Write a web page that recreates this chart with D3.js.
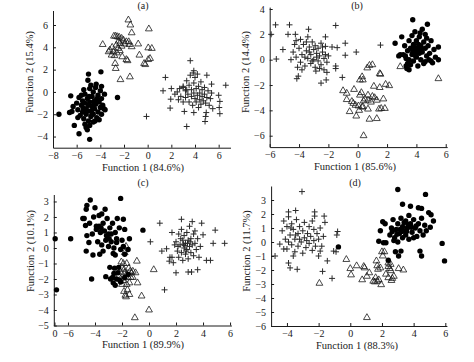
<!DOCTYPE html>
<html><head><meta charset="utf-8">
<script src="https://cdn.jsdelivr.net/npm/d3@7"></script>
<style>html,body{margin:0;padding:0;background:#fff;}svg{display:block;}</style>
</head><body>
<script>
// ---------- DATA ----------
const panelLabels = ["(a)", "(b)", "(c)", "(d)"];
const xTitles = ["Function 1 (84.6%)", "Function 1 (85.6%)", "Function 1 (89.9%)", "Function 1 (88.3%)"];
const yTitles = ["Function 2 (15.4%)", "Function 2 (14.4%)", "Function 2 (10.1%)", "Function 2 (11.7%)"];

const aXTicks = [-8,-6,-4,-2,0,2,4,6];
const aYTicks = [-4,-2,0,2,4,6];
const bXTicks = [-6,-4,-2,0,2,4,6];
const bYTicks = [-6,-4,-2,0,2,4];
const cXTicks = [-7,-6,-4,-2,0,2,4,6];
const cXTickLabels = ["0","−6","−4","−2","0","2","4","6"];
const cYTicks = [-5,-4,-3,-2,-1,0,1,2,3];
const dXTicks = [-4,-2,0,2,4,6];
const dYTicks = [-6,-5,-4,-3,-2,-1,0,1,2,3];

const aDots = [[-7.5,-2.0],[-6.5,-0.35],[-6.6,-1.85],[-6.4,-1.75],[-6.2,-3.0],[-5.8,-3.75],[-4.9,-4.25],[-5.2,-3.2],[-5.1,-3.4],[-5.0,1.6],[-5.05,1.05],[-3.95,1.8],[-4.35,0.7],[-2.55,-0.5],[-3.65,-0.2],[-3.6,-1.6],[-4.45,-2.6],
[-6.0,-1.0],[-5.8,-0.5],[-5.9,-1.6],[-5.7,-2.1],[-5.6,-1.2],[-5.5,-0.8],[-5.5,-1.8],[-5.4,-2.4],[-5.3,-0.2],[-5.3,-1.0],[-5.2,-1.5],[-5.2,-2.0],[-5.1,-0.6],[-5.0,-1.2],[-5.0,-2.6],[-4.9,0.3],[-4.9,-0.9],[-4.8,-1.7],[-4.8,-2.2],[-4.7,-0.4],[-4.7,-1.3],[-4.6,0.0],[-4.6,-2.0],[-4.5,-0.8],[-4.5,-1.5],[-4.4,0.4],[-4.4,-1.1],[-4.3,-2.3],[-4.2,-0.3],[-4.2,-1.8],[-4.1,-0.9],[-4.0,-1.4],[-4.0,0.1],[-3.9,-0.6],[-3.9,-2.0],[-3.8,-1.2],[-3.7,-1.5],[-5.6,-0.3],[-5.4,0.2],[-4.8,0.6],[-5.3,-2.9],[-4.9,-3.0],[-4.6,-2.7],[-6.3,-1.3],[-5.9,-2.3],[-4.3,-0.6],[-4.7,-1.9],[-5.1,-1.7],[-4.5,-1.0],[-3.9,0.5],[-4.1,-2.5],[-5.45,-1.45],[-4.95,-0.4]];
const aTriangles = [[-3.8,4.25],[-1.63,6.45],[-1.46,6.0],[-1.35,5.3],[0.1,5.65],[-2.85,5.0],[-2.7,5.0],[-2.55,4.95],[-2.4,4.9],[-2.2,4.8],[-3.2,3.75],[-3.05,3.3],[-2.75,2.55],[-2.7,2.1],[-2.3,1.1],[-1.5,1.35],[-1.7,2.8],[-1.8,2.9],[-2.15,3.15],[-1.35,4.05],[-0.8,4.3],[-0.7,3.3],[-0.3,2.55],[-0.2,2.45],[0.05,3.95],[0.35,3.9],[0.05,2.9],[0.2,3.0],[-1.8,4.5],[-1.6,4.5],[-2.05,4.65],[-2.35,4.35],[-2.65,4.2],[-2.5,3.9],[-2.9,3.6],[-2.6,3.5],[-3.0,4.0],[-2.35,3.7],[-1.95,4.3],[-2.2,4.1],[-3.3,3.6],[-2.8,3.25],[-2.45,4.55],[-1.55,4.25]];
const aPlus = [[1.5,1.3],[1.3,0.1],[1.95,-0.65],[1.9,-1.45],[-0.1,-2.2],[3.6,2.8],[3.1,-1.75],[3.3,-3.1],[3.9,1.9],[3.9,-1.85],[5.0,1.5],[5.4,0.7],[6.6,0.6],[6.0,-0.3],[6.1,-0.85],[6.05,-1.4],[6.1,-1.95],[4.85,-2.65],[4.9,-2.2],[4.95,-1.85],[2.0,0.3],[2.3,-0.2],[2.5,0.0],[2.6,-0.7],[2.8,-0.4],[3.0,0.4],[3.0,-0.9],[3.2,0.1],[3.2,-0.5],[3.3,1.0],[3.4,-0.2],[3.5,0.6],[3.5,-0.9],[3.6,1.5],[3.7,0.2],[3.7,-0.4],[3.8,-1.2],[3.9,0.8],[3.9,-0.1],[4.0,-0.6],[4.0,1.3],[4.1,0.3],[4.1,-0.9],[4.2,-0.3],[4.3,0.5],[4.3,-1.4],[4.4,-0.1],[4.4,-0.7],[4.5,0.9],[4.5,-1.1],[4.6,0.2],[4.6,-0.4],[4.7,-0.8],[4.8,0.4],[4.8,-0.2],[4.9,-1.0],[5.0,-0.5],[5.1,0.1],[5.2,-1.2],[5.3,-0.6],[5.4,-0.1],[5.5,-1.5],[3.0,0.5],[3.3,0.2],[4.2,1.6],[3.85,1.7],[2.7,0.3]];

const bDots = [[3.75,3.15],[4.75,2.8],[2.55,1.3],[3.0,1.8],[5.5,1.0],[5.5,0.0],[5.1,-0.25],[4.6,-0.15],[2.8,0.3],[3.35,-0.7],[3.5,-0.8],[3.3,-0.5],[3.4,-0.3],[3.1,0.4],[3.2,1.1],[3.3,0.1],[3.4,0.7],[3.5,1.5],[3.5,0.0],[3.6,0.9],[3.6,-0.4],[3.7,0.4],[3.7,1.9],[3.8,1.2],[3.8,-0.1],[3.9,0.7],[3.9,2.2],[4.0,0.2],[4.0,1.5],[4.1,0.9],[4.1,-0.5],[4.2,0.5],[4.2,1.8],[4.3,1.1],[4.3,0.0],[4.4,2.4],[4.4,0.6],[4.5,1.4],[4.5,-0.3],[4.6,0.9],[4.7,0.3],[4.7,1.7],[4.8,1.1],[4.9,0.5],[5.0,1.5],[5.0,-0.1],[5.2,0.8],[5.3,0.2],[3.9,0.9],[4.05,0.6],[4.15,1.2],[3.95,0.3],[4.35,0.8],[3.75,0.6],[4.25,2.1],[4.6,2.0],[3.25,0.3],[2.9,0.4],[4.85,0.0]];
const bTriangles = [[0.4,-6.0],[0.8,-0.45],[1.0,-0.4],[0.65,-0.65],[0.3,-1.35],[0.15,-1.6],[0.35,-1.6],[1.5,-1.1],[1.55,-1.15],[1.1,-2.1],[1.5,-2.2],[1.9,-1.95],[2.15,-2.05],[-1.0,-2.45],[-0.25,-2.35],[-0.75,-2.65],[-0.75,-3.15],[-0.4,-3.3],[-0.55,-4.1],[-0.1,-4.45],[0.1,-4.0],[0.35,-3.7],[0.4,-3.25],[0.7,-3.2],[1.0,-2.9],[1.3,-3.2],[1.75,-3.1],[1.6,-3.85],[1.85,-3.85],[1.45,-3.9],[1.3,-4.65],[0.8,-4.7],[-0.15,-3.6],[0.05,-3.65],[0.7,-3.9],[0.15,-2.8],[0.25,-2.6],[0.5,-3.1],[0.7,-2.8],[2.9,-0.55],[5.5,-1.5],[0.3,-3.75],[1.15,-3.0],[0.9,-3.35],[-0.3,-3.45]];
const bPlus = [[-5.6,2.75],[-5.9,2.0],[-5.55,0.05],[-5.1,0.8],[-4.65,2.75],[-4.75,2.0],[-4.25,2.0],[-3.35,2.4],[-1.5,2.7],[-2.2,1.8],[-0.85,1.3],[-0.1,0.6],[1.55,1.15],[-1.75,1.0],[-1.4,0.95],[-0.85,0.35],[-1.05,-1.4],[-2.5,-1.85],[-2.15,-1.6],[-4.15,-1.5],[-4.05,-1.3],[-2.85,-0.9],[-1.5,-0.5],[-1.5,-0.7],[-4.55,0.0],[-4.4,0.6],[-4.3,1.2],[-4.2,0.2],[-4.1,-0.6],[-4.0,0.9],[-3.9,1.6],[-3.9,-0.2],[-3.8,0.4],[-3.7,1.2],[-3.6,-0.5],[-3.5,0.7],[-3.4,0.1],[-3.4,1.8],[-3.3,1.0],[-3.2,0.4],[-3.2,-0.3],[-3.1,1.4],[-3.0,0.8],[-3.0,0.0],[-2.9,1.1],[-2.9,-0.6],[-2.8,0.5],[-2.7,0.9],[-2.7,-0.1],[-2.6,0.3],[-2.5,1.3],[-2.5,-0.4],[-2.4,0.6],[-2.3,0.1],[-2.3,-0.8],[-2.2,0.4],[-2.1,-0.2],[-2.1,-1.0],[-2.0,0.3],[-3.6,0.2],[-3.3,0.6],[-2.8,0.2],[-4.2,1.5],[-3.8,-0.8],[-2.6,-0.7],[-3.1,-0.1],[-2.4,1.0],[-3.5,1.4],[-2.2,1.05]];

const cDots = [[-6.95,0.6],[-6.85,-2.7],[-5.8,0.6],[-4.25,-2.0],[-4.35,3.1],[-2.1,3.2],[-0.45,1.15],[-4.6,2.75],[-4.65,2.5],[-4.8,1.9],[-4.7,1.45],[-4.6,0.8],[-4.45,0.35],[-4.65,-0.2],[-4.15,-0.45],[-3.65,-0.4],[-3.4,-0.2],[-2.65,-0.35],[-2.5,-0.45],[-1.8,-0.4],[-1.55,-0.1],[-1.45,0.6],[-1.8,1.2],[-1.9,1.85],[-2.35,1.9],[-3.25,2.5],[-3.5,2.2],[-3.7,1.4],[-3.15,0.8],[-2.8,0.9],[-2.4,0.35],[-4.9,1.9],[-4.4,1.6],[-4.2,0.9],[-4.0,2.6],[-3.9,1.2],[-3.8,0.4],[-3.7,2.1],[-3.6,1.0],[-3.5,0.2],[-3.4,1.6],[-3.3,1.1],[-3.2,0.5],[-3.1,1.9],[-3.0,0.9],[-3.0,0.1],[-2.9,1.3],[-2.8,0.4],[-2.7,1.6],[-2.6,0.0],[-2.5,1.0],[-2.4,0.6],[-2.2,1.3],[-2.1,-0.1],[-2.0,0.5],[-1.9,0.1],[-3.9,1.4],[-3.55,1.3],[-4.1,2.0],[-2.95,0.6],[-2.9,-1.25],[-2.55,-1.3],[-2.25,-1.25],[-2.6,-1.65],[-2.85,-2.0],[-2.65,-2.25],[-2.5,-2.4],[-2.15,-2.1],[-3.2,-1.85],[-1.8,-1.9],[-1.55,-1.7],[-2.1,-2.2],[-2.4,-2.0],[-2.7,-1.9],[-2.3,-1.6]];
const cTriangles = [[-0.9,-0.85],[0.35,-1.4],[-0.55,-3.1],[0.0,-4.0],[-1.05,-4.5],[-0.85,-2.25],[-1.7,0.1],[-1.8,-0.3],[-2.05,-0.9],[-1.9,-1.0],[-1.65,-1.0],[-2.0,-1.3],[-1.85,-1.4],[-1.5,-1.3],[-1.4,-1.5],[-1.3,-1.6],[-1.2,-1.5],[-2.1,-1.55],[-1.8,-1.6],[-1.65,-1.7],[-1.55,-1.9],[-1.35,-1.9],[-1.45,-2.25],[-1.65,-2.35],[-1.9,-2.1],[-1.85,-2.8],[-1.75,-3.05],[-1.7,-3.15],[-1.45,-3.0],[-1.6,-2.7],[-2.25,-1.8],[-2.1,-2.0],[-1.0,-1.6],[-1.2,-1.9],[-2.0,-2.35]];
const cPlus = [[0.8,1.6],[0.1,0.4],[1.7,1.0],[0.95,-0.2],[1.3,-0.05],[1.15,-2.7],[2.0,-1.6],[2.9,-1.55],[3.15,-1.55],[3.6,-1.4],[4.9,1.15],[5.6,0.3],[4.75,0.3],[4.25,-0.8],[4.55,-0.8],[4.0,0.85],[3.9,1.6],[3.2,1.7],[2.4,1.85],[1.55,-0.6],[1.5,-0.85],[1.8,-0.95],[1.7,-0.6],[2.0,0.4],[2.1,-0.2],[2.2,0.9],[2.2,-0.6],[2.3,0.2],[2.4,-0.3],[2.4,1.2],[2.5,0.5],[2.5,-0.8],[2.6,0.0],[2.6,0.8],[2.7,-0.4],[2.7,0.3],[2.8,1.0],[2.8,-0.1],[2.9,0.5],[2.9,-0.7],[3.0,0.1],[3.0,1.4],[3.1,0.6],[3.1,-0.3],[3.2,0.2],[3.3,0.9],[3.3,-0.5],[3.4,0.3],[3.5,-0.1],[3.6,0.6],[3.7,-0.6],[3.8,0.1],[2.35,0.6],[2.65,0.15],[2.85,0.3],[3.05,0.4],[2.55,0.25],[2.75,-0.2],[3.4,1.1],[2.15,0.1],[1.9,0.2]];

const dDots = [[3.0,3.75],[4.75,3.4],[3.3,2.7],[3.8,2.55],[4.3,2.45],[4.5,2.4],[4.95,2.1],[5.1,1.95],[5.25,1.5],[5.05,1.05],[4.8,0.8],[5.8,-0.1],[5.95,-1.35],[4.4,-0.65],[4.5,-1.0],[4.0,0.3],[3.2,-0.65],[3.05,-1.0],[2.85,-0.7],[2.75,0.1],[1.9,0.8],[2.05,1.45],[2.2,1.3],[1.8,0.05],[2.1,-0.05],[2.25,-0.05],[2.4,-1.3],[-0.75,-0.35],[2.5,0.5],[2.6,1.0],[2.7,1.6],[2.8,0.3],[2.9,0.9],[3.0,1.3],[3.0,0.0],[3.1,0.6],[3.2,1.7],[3.3,1.1],[3.3,0.3],[3.4,0.8],[3.5,1.5],[3.5,0.5],[3.6,1.0],[3.7,1.9],[3.7,0.2],[3.8,1.3],[3.9,0.7],[4.0,1.6],[4.1,1.0],[4.2,0.4],[4.3,1.3],[4.4,0.8],[4.5,1.7],[4.6,0.5],[4.7,1.2],[3.4,1.4],[3.15,0.9],[3.55,0.75],[3.85,1.05],[2.95,0.55],[3.25,0.75],[3.65,1.25],[4.15,1.15],[2.65,0.75]];
const dTriangles = [[1.05,-5.4],[-1.95,-2.95],[-0.25,-1.25],[0.0,-1.9],[0.05,-2.35],[0.4,-1.7],[0.9,-1.85],[0.85,-1.75],[0.75,-2.7],[1.05,-2.45],[1.2,-2.2],[1.45,-2.8],[1.6,-2.55],[1.7,-2.8],[1.95,-3.05],[2.0,-0.7],[2.15,-0.7],[2.05,-1.0],[1.65,-1.35],[1.7,-1.7],[1.75,-1.95],[2.4,-1.5],[2.55,-1.6],[2.5,-1.9],[2.55,-2.05],[2.75,-2.45],[2.65,-2.6],[2.4,-2.55],[3.05,-1.9],[3.35,-2.0],[2.25,-2.3],[1.8,-2.7],[1.55,-2.85],[2.6,-2.75],[1.9,-1.85],[2.4,-1.75]];
const dPlus = [[-3.05,3.6],[-4.75,-1.0],[-4.45,-0.15],[-3.9,2.15],[-3.45,2.25],[-2.25,2.15],[-2.25,1.85],[-1.65,1.85],[-1.6,1.4],[-0.85,0.5],[-0.8,0.75],[-1.05,-0.65],[-0.9,-0.7],[-1.45,-1.35],[-1.75,-2.1],[-1.15,-2.6],[-3.35,-1.95],[-3.8,-1.85],[-3.9,-1.5],[-4.2,-0.5],[-2.0,-1.0],[-1.9,-0.65],[-4.3,0.8],[-4.2,1.5],[-4.1,0.2],[-4.0,-0.5],[-4.0,1.1],[-3.9,1.8],[-3.8,0.5],[-3.7,-0.2],[-3.7,1.3],[-3.6,0.9],[-3.5,-0.7],[-3.5,0.2],[-3.4,1.6],[-3.3,0.6],[-3.3,-0.3],[-3.2,1.1],[-3.1,0.0],[-3.0,0.8],[-3.0,-0.8],[-2.9,1.4],[-2.9,0.3],[-2.8,-0.4],[-2.7,0.6],[-2.6,1.1],[-2.6,-0.1],[-2.5,0.4],[-2.4,-0.6],[-2.3,0.9],[-2.3,0.1],[-2.2,-0.3],[-2.1,0.6],[-2.0,0.2],[-1.9,1.0],[-1.8,-0.3],[-1.7,0.4],[-3.6,-1.0],[-3.2,0.2],[-2.75,0.1],[-3.9,0.0],[-2.4,1.5],[-3.75,1.0],[-3.45,0.5]];

// ---------- LAYOUT ----------
const W = 474, H = 362;
const ink = "#1a1a1a";
const serif = "'Liberation Serif','Times New Roman',serif";
const panels = [
  {dots:aDots, tri:aTriangles, plus:aPlus, xd:[-8,7], yd:[-5,7.3], xr:[53,230.5], yr:[147.7,10.5], xt:aXTicks, xl:null, yt:aYTicks,
   lab:[143,9], xT:[143,171], yT:[29,72]},
  {dots:bDots, tri:bTriangles, plus:bPlus, xd:[-6,6.1], yd:[-6.9,4.15], xr:[269.7,447.2], yr:[147.1,7.1], xt:bXTicks, xl:null, yt:bYTicks,
   lab:[357,9], xT:[355,170], yT:[245,72]},
  {dots:cDots, tri:cTriangles, plus:cPlus, xd:[-7.05,6.1], yd:[-5,3.45], xr:[53.8,231.4], yr:[325.5,194.5], xt:cXTicks, xl:cXTickLabels, yt:cYTicks,
   lab:[143,186], xT:[143,348], yT:[30,251]},
  {dots:dDots, tri:dTriangles, plus:dPlus, xd:[-5,6.1], yd:[-6,4], xr:[271.1,446.9], yr:[326,186], xt:dXTicks, xl:null, yt:dYTicks,
   lab:[355,186], xT:[357,349], yT:[246,251]}
];

const svg = d3.select("body").append("svg").attr("width", W).attr("height", H)
  .style("font-family", serif);
svg.append("rect").attr("width", W).attr("height", H).attr("fill", "#fff");

const fmt = v => (v < 0 ? "−" + Math.abs(v) : String(v));

panels.forEach((p, i) => {
  const x = d3.scaleLinear().domain(p.xd).range(p.xr);
  const y = d3.scaleLinear().domain(p.yd).range(p.yr);
  const g = svg.append("g");

  const xa = d3.axisBottom(x).tickValues(p.xt).tickSizeInner(-3).tickSizeOuter(0).tickPadding(4)
    .tickFormat((d, k) => p.xl ? p.xl[k] : fmt(d));
  const gx = g.append("g").attr("transform", `translate(0,${p.yr[0]})`).call(xa);
  const ya = d3.axisLeft(y).tickValues(p.yt).tickSizeInner(-3).tickSizeOuter(0).tickPadding(5)
    .tickFormat(fmt);
  const gy = g.append("g").attr("transform", `translate(${p.xr[0]},0)`).call(ya);
  [gx, gy].forEach(a => {
    a.select(".domain").attr("stroke", ink).attr("stroke-width", 1);
    a.selectAll(".tick line").attr("stroke", ink).attr("stroke-width", 1);
    a.selectAll("text").attr("fill", ink).style("font-size", "10px").style("font-family", serif);
  });

  const triPath = d3.symbol().type(d3.symbolTriangle).size(20);
  g.append("g").selectAll("path").data(p.tri).join("path")
    .attr("d", triPath).attr("transform", d => `translate(${x(d[0])},${y(d[1])})`)
    .attr("fill", "none").attr("stroke", ink).attr("stroke-width", 0.8);
  const pg = g.append("g").attr("stroke", "#2a2a2a").attr("stroke-width", 1);
  pg.selectAll("path").data(p.plus).join("path")
    .attr("d", d => { const cx = x(d[0]), cy = y(d[1]); return `M${cx-3},${cy}H${cx+3}M${cx},${cy-3}V${cy+3}`; });
  g.append("g").selectAll("circle").data(p.dots).join("circle")
    .attr("cx", d => x(d[0])).attr("cy", d => y(d[1])).attr("r", 2.7).attr("fill", "#000");

  g.append("text").attr("x", p.lab[0]).attr("y", p.lab[1]).attr("text-anchor", "middle")
    .attr("fill", ink).style("font-size", "10px").text(panelLabels[i]);
  g.append("text").attr("x", p.xT[0]).attr("y", p.xT[1]).attr("text-anchor", "middle")
    .attr("fill", ink).style("font-size", "10.5px").text(xTitles[i]);
  g.append("text").attr("transform", `translate(${p.yT[0]},${p.yT[1]}) rotate(-90)`)
    .attr("text-anchor", "middle").attr("dy", "0.35em")
    .attr("fill", ink).style("font-size", "10.5px").text(yTitles[i]);
});
</script>
</body></html>
